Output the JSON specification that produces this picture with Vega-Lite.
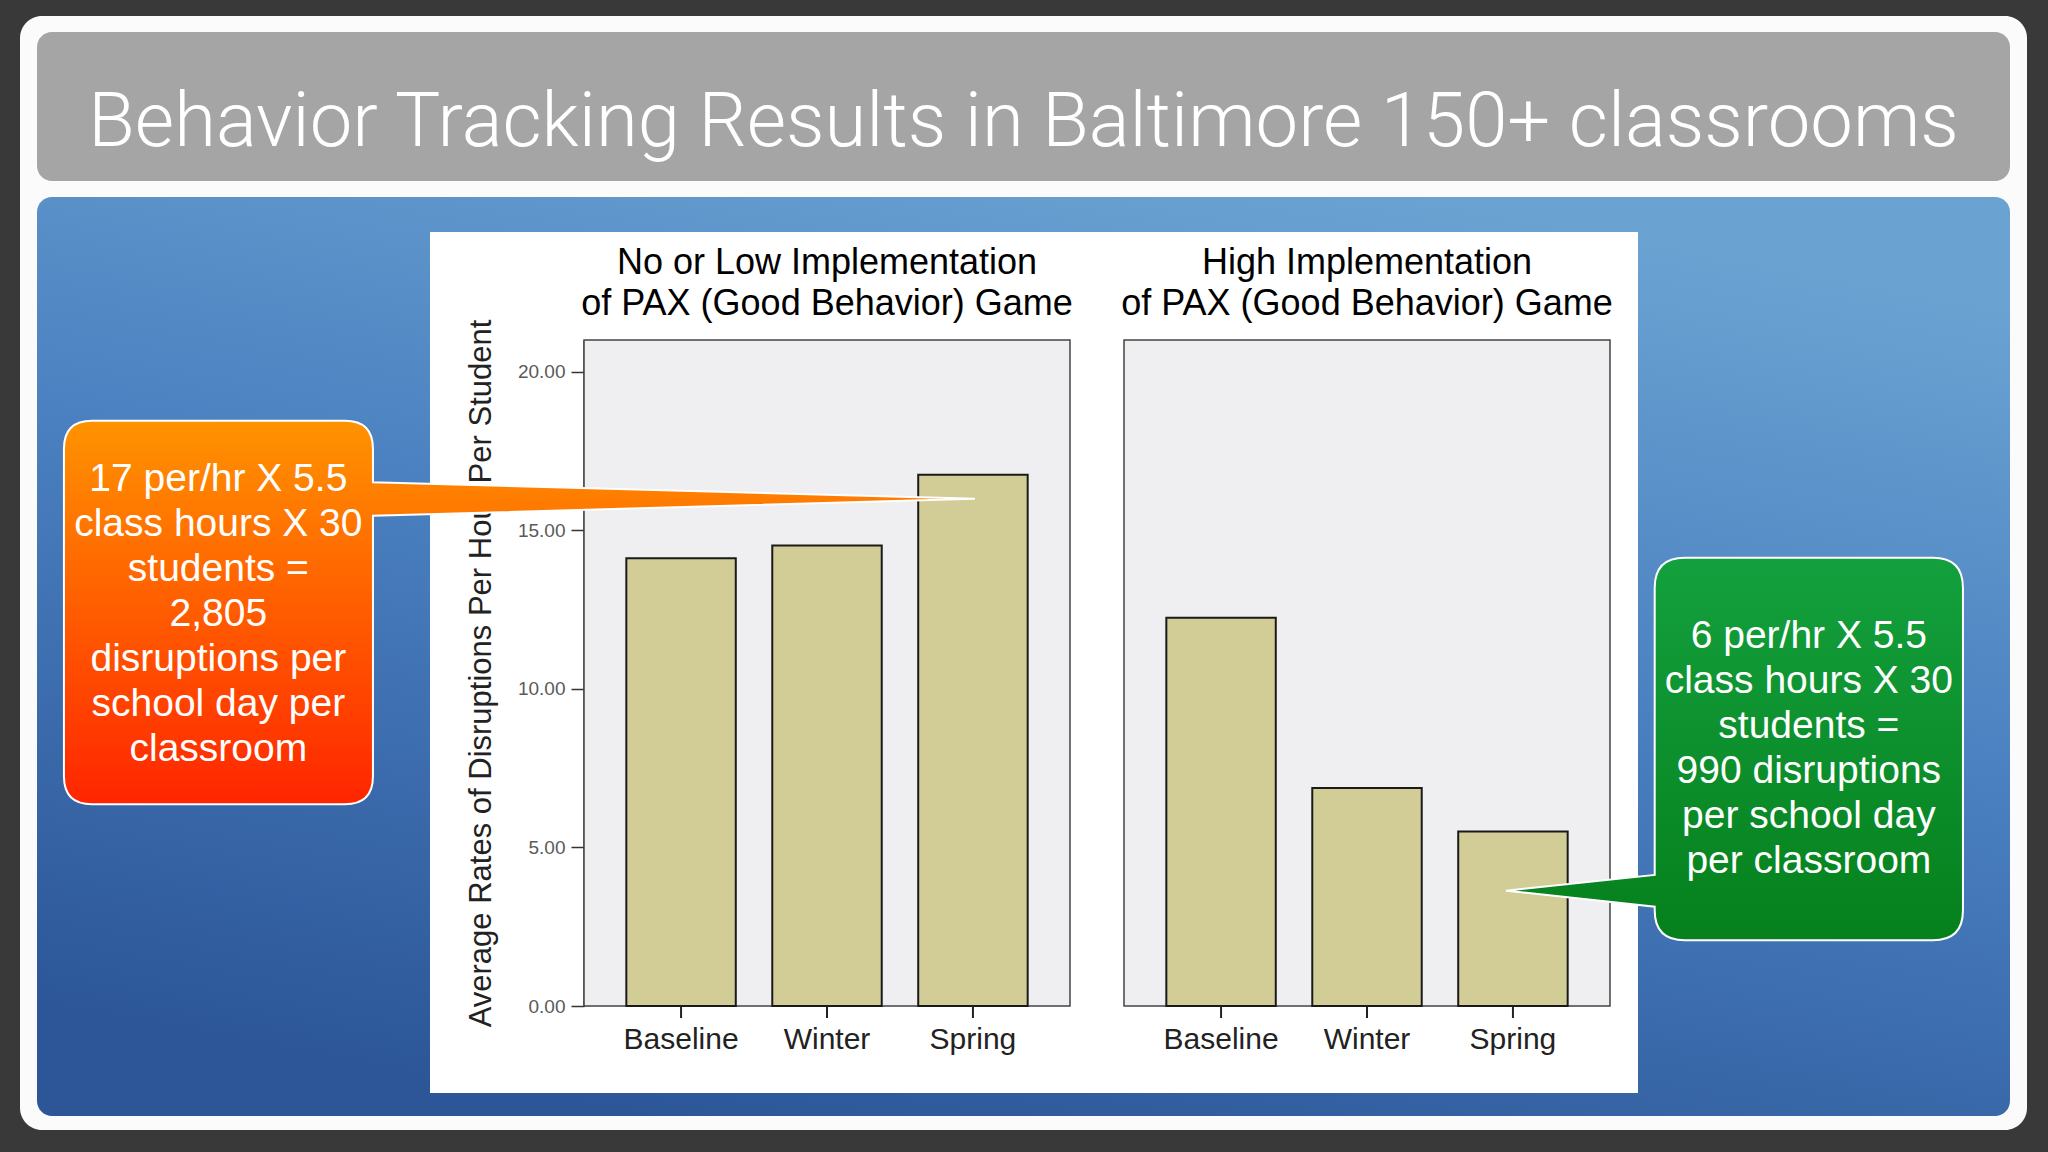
{
  "$schema": "https://vega.github.io/schema/vega-lite/v6.json",
  "background": "#393939",
  "padding": {"left": 20, "top": 16, "right": 21, "bottom": 22},
  "config": {
    "view": {"stroke": null},
    "font": "Liberation Sans",
    "axisY": {
      "format": ".2f", "grid": false,
      "domainColor": "#111111", "domainWidth": 2, "tickColor": "#333333", "tickWidth": 1.5, "tickSize": 13,
      "labelFont": "Liberation Sans", "labelFontSize": 19, "labelColor": "#5a5a5a", "labelPadding": 6,
      "titleFont": "Liberation Sans", "titleFontSize": 31, "titleFontWeight": "normal", "titleColor": "#222222", "titlePadding": 20
    }
  },
  "bounds": "flush",
  "spacing": 0,
  "vconcat": [
    {
      "bounds": "flush",
      "vconcat": [
        {"width": 2007, "height": 1114, "data": {"values": []}, "mark": "point", "view": {"fill": "#fbfbfb", "cornerRadius": 22}}
      ]
    },
    {
      "bounds": "flush",
      "spacing": 15,
      "vconcat": [
        {"width": 1, "height": 1, "data": {"values": []}, "mark": "point"},
        {
          "bounds": "flush",
          "spacing": 16,
          "hconcat": [
            {"width": 1, "height": 1, "data": {"values": []}, "mark": "point"},
            {
              "width": 1973, "height": 149,
              "data": {"values": [{"heading": "Behavior Tracking Results in Baltimore 150+ classrooms"}]},
              "mark": {"type": "text", "font": "Roboto", "fontWeight": 300, "fontSize": 76, "color": "#ffffff", "align": "center", "baseline": "alphabetic", "dy": 39.5},
              "encoding": {"text": {"field": "heading"}},
              "view": {"fill": "#a5a5a5", "cornerRadius": 15}
            }
          ]
        }
      ]
    },
    {
      "bounds": "flush",
      "spacing": 180,
      "vconcat": [
        {"width": 1, "height": 1, "data": {"values": []}, "mark": "point"},
        {
          "bounds": "flush",
          "spacing": 16,
          "hconcat": [
            {"width": 1, "height": 1, "data": {"values": []}, "mark": "point"},
            {
              "width": 1973, "height": 919, "data": {"values": []}, "mark": "point",
              "view": {"cornerRadius": 15, "fill": {"gradient": "linear", "x1": 0.7, "y1": 0, "x2": 0.3, "y2": 1, "stops": [{"offset": 0, "color": "#6aa3d2"}, {"offset": 0.45, "color": "#4a80c0"}, {"offset": 1, "color": "#2c5698"}]}}
            }
          ]
        }
      ]
    },
    {
      "bounds": "flush",
      "spacing": 215,
      "vconcat": [
        {"width": 1, "height": 1, "data": {"values": []}, "mark": "point"},
        {
          "bounds": "flush",
          "spacing": 409,
          "hconcat": [
            {"width": 1, "height": 1, "data": {"values": []}, "mark": "point"},
            {"width": 1208, "height": 861, "data": {"values": []}, "mark": "point", "view": {"fill": "#ffffff"}}
          ]
        }
      ]
    },
    {
      "bounds": "flush",
      "spacing": 323,
      "vconcat": [
        {"width": 1, "height": 1, "data": {"values": []}, "mark": "point"},
        {
          "bounds": "flush",
          "spacing": 563,
          "hconcat": [
            {"width": 1, "height": 1, "data": {"values": []}, "mark": "point"},
            {
              "width": 1026,
              "height": 666,
              "data": {
                "values": [
                  {"implementation": "Low", "panel": "No or Low Implementation\nof PAX (Good Behavior) Game", "season": "Baseline", "value": 14.12},
                  {"implementation": "Low", "panel": "No or Low Implementation\nof PAX (Good Behavior) Game", "season": "Winter", "value": 14.52},
                  {"implementation": "Low", "panel": "No or Low Implementation\nof PAX (Good Behavior) Game", "season": "Spring", "value": 16.75, "note": "17 per/hr X 5.5\nclass hours X 30\nstudents =\n2,805\ndisruptions per\nschool day per\nclassroom"},
                  {"implementation": "High", "panel": "High Implementation\nof PAX (Good Behavior) Game", "season": "Baseline", "value": 12.24},
                  {"implementation": "High", "panel": "High Implementation\nof PAX (Good Behavior) Game", "season": "Winter", "value": 6.87},
                  {"implementation": "High", "panel": "High Implementation\nof PAX (Good Behavior) Game", "season": "Spring", "value": 5.5, "note": "6 per/hr X 5.5\nclass hours X 30\nstudents =\n990 disruptions\nper school day\nper classroom"}
                ]
              },
              "layer": [
                {
                  "transform": [{"aggregate": [{"op": "count", "as": "bars"}], "groupby": ["implementation", "panel"]}],
                  "mark": {"type": "rect", "fill": "#efeef0", "stroke": "#444444", "strokeWidth": 1.5},
                  "encoding": {
                    "x": {"field": "implementation", "type": "nominal", "sort": ["Low", "High"], "scale": {"paddingInner": 0.1, "paddingOuter": 0}, "axis": null},
                    "y": {"datum": 0, "type": "quantitative", "scale": {"domain": [0, 21], "nice": false}, "title": "Average Rates of Disruptions Per Hour Per Student", "axis": {"values": [0, 5, 10, 15, 20]}},
                    "y2": {"datum": 21}
                  }
                },
                {
                  "mark": {"type": "bar", "fill": "#d2cd97", "stroke": "#1a1a1a", "strokeWidth": 2},
                  "encoding": {
                    "x": {"field": "implementation", "type": "nominal", "sort": ["Low", "High"], "scale": {"paddingInner": 0.1, "paddingOuter": 0}, "axis": null},
                    "xOffset": {"field": "season", "type": "nominal", "sort": ["Baseline", "Winter", "Spring"], "scale": {"paddingInner": 0.25, "paddingOuter": 0.29}},
                    "y": {"field": "value", "type": "quantitative", "scale": {"domain": [0, 21], "nice": false}, "title": "Average Rates of Disruptions Per Hour Per Student", "axis": {"values": [0, 5, 10, 15, 20]}}
                  }
                },
                {
                  "mark": {"type": "rule", "stroke": "#222222", "strokeWidth": 2, "y2Offset": 12},
                  "encoding": {
                    "x": {"field": "implementation", "type": "nominal", "sort": ["Low", "High"], "scale": {"paddingInner": 0.1, "paddingOuter": 0}, "axis": null},
                    "xOffset": {"field": "season", "type": "nominal", "sort": ["Baseline", "Winter", "Spring"], "scale": {"paddingInner": 0.25, "paddingOuter": 0.29}},
                    "y": {"datum": 0, "type": "quantitative", "scale": {"domain": [0, 21], "nice": false}, "title": "Average Rates of Disruptions Per Hour Per Student", "axis": {"values": [0, 5, 10, 15, 20]}},
                    "y2": {"datum": 0}
                  }
                },
                {
                  "mark": {"type": "text", "fontSize": 30, "color": "#222222", "align": "center", "baseline": "middle", "dy": 34},
                  "encoding": {
                    "x": {"field": "implementation", "type": "nominal", "sort": ["Low", "High"], "scale": {"paddingInner": 0.1, "paddingOuter": 0}, "axis": null},
                    "xOffset": {"field": "season", "type": "nominal", "sort": ["Baseline", "Winter", "Spring"], "scale": {"paddingInner": 0.25, "paddingOuter": 0.29}},
                    "y": {"datum": 0, "type": "quantitative", "scale": {"domain": [0, 21], "nice": false}, "title": "Average Rates of Disruptions Per Hour Per Student", "axis": {"values": [0, 5, 10, 15, 20]}},
                    "text": {"field": "season"}
                  }
                },
                {
                  "transform": [{"aggregate": [{"op": "count", "as": "bars"}], "groupby": ["implementation", "panel"]}],
                  "mark": {"type": "text", "fontSize": 36, "color": "#000000", "align": "center", "baseline": "alphabetic", "lineBreak": "\n", "lineHeight": 41, "dy": -66},
                  "encoding": {
                    "x": {"field": "implementation", "type": "nominal", "sort": ["Low", "High"], "scale": {"paddingInner": 0.1, "paddingOuter": 0}, "axis": null},
                    "y": {"datum": 21, "type": "quantitative", "scale": {"domain": [0, 21], "nice": false}, "title": "Average Rates of Disruptions Per Hour Per Student", "axis": {"values": [0, 5, 10, 15, 20]}},
                    "text": {"field": "panel"}
                  }
                },
                {
                  "transform": [{"filter": "datum.implementation === 'Low' && isValid(datum.note)"}],
                  "mark": {
                    "type": "point", "filled": true, "opacity": 1, "size": 4, "strokeWidth": 2, "stroke": "#ffffff",
                    "shape": "M -881 -54 H -628 Q -600 -54 -600 -26 V 7.5 L 2 24 L -600 41 V 301.5 Q -600 329.5 -628 329.5 H -881 Q -909 329.5 -909 301.5 V -26 Q -909 -54 -881 -54 Z",
                    "fill": {"gradient": "linear", "x1": 0, "y1": 0, "x2": 0, "y2": 1, "stops": [{"offset": 0, "color": "#ff9300"}, {"offset": 1, "color": "#ff2500"}]}
                  },
                  "encoding": {
                    "x": {"field": "implementation", "type": "nominal", "sort": ["Low", "High"], "scale": {"paddingInner": 0.1, "paddingOuter": 0}, "axis": null},
                    "xOffset": {"field": "season", "type": "nominal", "sort": ["Baseline", "Winter", "Spring"], "scale": {"paddingInner": 0.25, "paddingOuter": 0.29}},
                    "y": {"field": "value", "type": "quantitative", "scale": {"domain": [0, 21], "nice": false}, "title": "Average Rates of Disruptions Per Hour Per Student", "axis": {"values": [0, 5, 10, 15, 20]}}
                  }
                },
                {
                  "transform": [{"filter": "datum.implementation === 'Low' && isValid(datum.note)"}],
                  "mark": {"type": "text", "fontSize": 39, "lineHeight": 45, "lineBreak": "\n", "color": "#ffffff", "align": "center", "baseline": "middle", "dx": -754.6, "dy": 4.5},
                  "encoding": {
                    "x": {"field": "implementation", "type": "nominal", "sort": ["Low", "High"], "scale": {"paddingInner": 0.1, "paddingOuter": 0}, "axis": null},
                    "xOffset": {"field": "season", "type": "nominal", "sort": ["Baseline", "Winter", "Spring"], "scale": {"paddingInner": 0.25, "paddingOuter": 0.29}},
                    "y": {"field": "value", "type": "quantitative", "scale": {"domain": [0, 21], "nice": false}, "title": "Average Rates of Disruptions Per Hour Per Student", "axis": {"values": [0, 5, 10, 15, 20]}},
                    "text": {"field": "note"}
                  }
                },
                {
                  "transform": [{"filter": "datum.implementation === 'High' && isValid(datum.note)"}],
                  "mark": {
                    "type": "point", "filled": true, "opacity": 1, "size": 4, "strokeWidth": 2, "stroke": "#ffffff",
                    "shape": "M 171.75 -273.9 H 420 Q 450 -273.9 450 -243.9 V 78.7 Q 450 108.7 420 108.7 H 171.75 Q 141.75 108.7 141.75 78.7 V 75.1 L -7 59.1 L 141.75 43.4 V -243.9 Q 141.75 -273.9 171.75 -273.9 Z",
                    "fill": {"gradient": "linear", "x1": 0, "y1": 0, "x2": 0, "y2": 1, "stops": [{"offset": 0, "color": "#14a03e"}, {"offset": 1, "color": "#05801c"}]}
                  },
                  "encoding": {
                    "x": {"field": "implementation", "type": "nominal", "sort": ["Low", "High"], "scale": {"paddingInner": 0.1, "paddingOuter": 0}, "axis": null},
                    "xOffset": {"field": "season", "type": "nominal", "sort": ["Baseline", "Winter", "Spring"], "scale": {"paddingInner": 0.25, "paddingOuter": 0.29}},
                    "y": {"field": "value", "type": "quantitative", "scale": {"domain": [0, 21], "nice": false}, "title": "Average Rates of Disruptions Per Hour Per Student", "axis": {"values": [0, 5, 10, 15, 20]}}
                  }
                },
                {
                  "transform": [{"filter": "datum.implementation === 'High' && isValid(datum.note)"}],
                  "mark": {"type": "text", "fontSize": 39, "lineHeight": 45, "lineBreak": "\n", "color": "#ffffff", "align": "center", "baseline": "middle", "dx": 295.9, "dy": -195.6},
                  "encoding": {
                    "x": {"field": "implementation", "type": "nominal", "sort": ["Low", "High"], "scale": {"paddingInner": 0.1, "paddingOuter": 0}, "axis": null},
                    "xOffset": {"field": "season", "type": "nominal", "sort": ["Baseline", "Winter", "Spring"], "scale": {"paddingInner": 0.25, "paddingOuter": 0.29}},
                    "y": {"field": "value", "type": "quantitative", "scale": {"domain": [0, 21], "nice": false}, "title": "Average Rates of Disruptions Per Hour Per Student", "axis": {"values": [0, 5, 10, 15, 20]}},
                    "text": {"field": "note"}
                  }
                }
              ]
            }
          ]
        }
      ]
    }
  ]
}
